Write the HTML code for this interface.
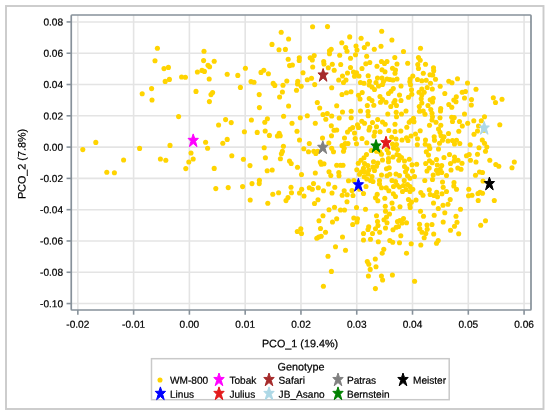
<!DOCTYPE html><html><head><meta charset="utf-8"><title>PCO plot</title>
<style>html,body{margin:0;padding:0;background:#fff}body{width:550px;height:416px;overflow:hidden}svg{display:block}text{font-family:"Liberation Sans",sans-serif;fill:#000;stroke:#000;stroke-width:0.22px}</style></head><body>
<svg width="550" height="416" viewBox="0 0 550 416">
<rect x="0" y="0" width="550" height="416" fill="#fff"/>
<rect x="6" y="6" width="537.5" height="403" fill="none" stroke="#cbcbcb" stroke-width="1.9"/>
<g stroke="#e4e4e4" stroke-width="1.6"><line x1="77.84" y1="15.00" x2="77.84" y2="310.00"/><line x1="133.62" y1="15.00" x2="133.62" y2="310.00"/><line x1="189.40" y1="15.00" x2="189.40" y2="310.00"/><line x1="245.18" y1="15.00" x2="245.18" y2="310.00"/><line x1="300.96" y1="15.00" x2="300.96" y2="310.00"/><line x1="356.74" y1="15.00" x2="356.74" y2="310.00"/><line x1="412.52" y1="15.00" x2="412.52" y2="310.00"/><line x1="468.30" y1="15.00" x2="468.30" y2="310.00"/><line x1="524.08" y1="15.00" x2="524.08" y2="310.00"/><line x1="71.25" y1="21.94" x2="531.00" y2="21.94"/><line x1="71.25" y1="53.23" x2="531.00" y2="53.23"/><line x1="71.25" y1="84.52" x2="531.00" y2="84.52"/><line x1="71.25" y1="115.81" x2="531.00" y2="115.81"/><line x1="71.25" y1="147.10" x2="531.00" y2="147.10"/><line x1="71.25" y1="178.39" x2="531.00" y2="178.39"/><line x1="71.25" y1="209.68" x2="531.00" y2="209.68"/><line x1="71.25" y1="240.97" x2="531.00" y2="240.97"/><line x1="71.25" y1="272.26" x2="531.00" y2="272.26"/><line x1="71.25" y1="303.55" x2="531.00" y2="303.55"/></g>
<g fill="#ffd400">
<circle cx="227.2" cy="139.4" r="2.55"/>
<circle cx="222.8" cy="143.2" r="2.55"/>
<circle cx="214.2" cy="61.2" r="2.55"/>
<circle cx="245.4" cy="68.2" r="2.55"/>
<circle cx="139.6" cy="148.4" r="2.55"/>
<circle cx="257.2" cy="132.4" r="2.55"/>
<circle cx="244.4" cy="131.8" r="2.55"/>
<circle cx="209.6" cy="66.8" r="2.55"/>
<circle cx="261.0" cy="72.4" r="2.55"/>
<circle cx="208.0" cy="65.2" r="2.55"/>
<circle cx="227.2" cy="74.2" r="2.55"/>
<circle cx="207.6" cy="148.2" r="2.55"/>
<circle cx="155.0" cy="60.8" r="2.55"/>
<circle cx="237.8" cy="75.4" r="2.55"/>
<circle cx="263.8" cy="70.2" r="2.55"/>
<circle cx="231.8" cy="155.8" r="2.55"/>
<circle cx="323.4" cy="286.2" r="2.55"/>
<circle cx="264.2" cy="147.8" r="2.55"/>
<circle cx="205.6" cy="142.2" r="2.55"/>
<circle cx="218.6" cy="125.0" r="2.55"/>
<circle cx="265.2" cy="131.0" r="2.55"/>
<circle cx="157.4" cy="48.2" r="2.55"/>
<circle cx="204.4" cy="71.4" r="2.55"/>
<circle cx="265.4" cy="157.8" r="2.55"/>
<circle cx="204.0" cy="51.2" r="2.55"/>
<circle cx="95.8" cy="142.4" r="2.55"/>
<circle cx="203.6" cy="60.6" r="2.55"/>
<circle cx="209.2" cy="79.0" r="2.55"/>
<circle cx="243.4" cy="159.2" r="2.55"/>
<circle cx="231.2" cy="122.6" r="2.55"/>
<circle cx="375.4" cy="288.6" r="2.55"/>
<circle cx="267.8" cy="203.2" r="2.55"/>
<circle cx="264.8" cy="122.2" r="2.55"/>
<circle cx="123.6" cy="160.0" r="2.55"/>
<circle cx="202.0" cy="70.4" r="2.55"/>
<circle cx="160.4" cy="159.0" r="2.55"/>
<circle cx="268.4" cy="73.8" r="2.55"/>
<circle cx="269.4" cy="135.4" r="2.55"/>
<circle cx="314.5" cy="203.5" r="2.55"/>
<circle cx="251.0" cy="81.6" r="2.55"/>
<circle cx="426.2" cy="80.3" r="2.55"/>
<circle cx="432.2" cy="162.7" r="2.55"/>
<circle cx="421.8" cy="80.8" r="2.55"/>
<circle cx="251.4" cy="120.0" r="2.55"/>
<circle cx="250.2" cy="200.0" r="2.55"/>
<circle cx="320.3" cy="162.0" r="2.55"/>
<circle cx="377.8" cy="163.0" r="2.55"/>
<circle cx="476.0" cy="162.0" r="2.55"/>
<circle cx="514.3" cy="162.0" r="2.55"/>
<circle cx="420.8" cy="245.0" r="2.55"/>
<circle cx="373.5" cy="161.8" r="2.55"/>
<circle cx="254.0" cy="82.2" r="2.55"/>
<circle cx="369.5" cy="81.3" r="2.55"/>
<circle cx="473.8" cy="120.7" r="2.55"/>
<circle cx="481.3" cy="120.7" r="2.55"/>
<circle cx="225.6" cy="119.6" r="2.55"/>
<circle cx="417.5" cy="79.5" r="2.55"/>
<circle cx="372.5" cy="122.5" r="2.55"/>
<circle cx="364.5" cy="163.5" r="2.55"/>
<circle cx="425.7" cy="163.5" r="2.55"/>
<circle cx="433.5" cy="203.0" r="2.55"/>
<circle cx="307.3" cy="79.7" r="2.55"/>
<circle cx="432.0" cy="120.0" r="2.55"/>
<circle cx="324.0" cy="163.7" r="2.55"/>
<circle cx="267.4" cy="118.8" r="2.55"/>
<circle cx="315.3" cy="123.2" r="2.55"/>
<circle cx="361.8" cy="121.3" r="2.55"/>
<circle cx="364.5" cy="123.2" r="2.55"/>
<circle cx="321.3" cy="164.2" r="2.55"/>
<circle cx="416.7" cy="164.2" r="2.55"/>
<circle cx="429.5" cy="160.7" r="2.55"/>
<circle cx="376.0" cy="82.5" r="2.55"/>
<circle cx="377.7" cy="119.5" r="2.55"/>
<circle cx="311.5" cy="78.3" r="2.55"/>
<circle cx="489.8" cy="160.2" r="2.55"/>
<circle cx="361.1" cy="38.3" r="2.55"/>
<circle cx="164.0" cy="68.6" r="2.55"/>
<circle cx="272.0" cy="44.4" r="2.55"/>
<circle cx="377.5" cy="78.0" r="2.55"/>
<circle cx="361.0" cy="160.2" r="2.55"/>
<circle cx="364.0" cy="83.2" r="2.55"/>
<circle cx="430.5" cy="83.2" r="2.55"/>
<circle cx="377.8" cy="200.8" r="2.55"/>
<circle cx="378.3" cy="241.8" r="2.55"/>
<circle cx="360.5" cy="82.5" r="2.55"/>
<circle cx="435.5" cy="79.2" r="2.55"/>
<circle cx="367.8" cy="165.5" r="2.55"/>
<circle cx="470.5" cy="160.2" r="2.55"/>
<circle cx="478.2" cy="200.5" r="2.55"/>
<circle cx="197.4" cy="72.0" r="2.55"/>
<circle cx="325.8" cy="119.2" r="2.55"/>
<circle cx="436.0" cy="122.2" r="2.55"/>
<circle cx="416.0" cy="200.0" r="2.55"/>
<circle cx="318.0" cy="199.8" r="2.55"/>
<circle cx="165.2" cy="81.4" r="2.55"/>
<circle cx="273.2" cy="83.4" r="2.55"/>
<circle cx="429.5" cy="125.3" r="2.55"/>
<circle cx="376.5" cy="166.3" r="2.55"/>
<circle cx="414.6" cy="281.2" r="2.55"/>
<circle cx="436.5" cy="159.5" r="2.55"/>
<circle cx="436.5" cy="243.2" r="2.55"/>
<circle cx="250.0" cy="165.6" r="2.55"/>
<circle cx="314.7" cy="84.6" r="2.55"/>
<circle cx="165.8" cy="160.2" r="2.55"/>
<circle cx="367.6" cy="44.0" r="2.55"/>
<circle cx="359.0" cy="76.0" r="2.55"/>
<circle cx="369.2" cy="85.0" r="2.55"/>
<circle cx="382.0" cy="78.0" r="2.55"/>
<circle cx="414.0" cy="121.8" r="2.55"/>
<circle cx="478.5" cy="126.0" r="2.55"/>
<circle cx="372.8" cy="167.0" r="2.55"/>
<circle cx="363.5" cy="240.0" r="2.55"/>
<circle cx="368.4" cy="276.0" r="2.55"/>
<circle cx="381.4" cy="276.0" r="2.55"/>
<circle cx="368.2" cy="75.8" r="2.55"/>
<circle cx="432.5" cy="116.8" r="2.55"/>
<circle cx="484.5" cy="116.8" r="2.55"/>
<circle cx="364.0" cy="157.8" r="2.55"/>
<circle cx="437.3" cy="165.0" r="2.55"/>
<circle cx="382.5" cy="84.5" r="2.55"/>
<circle cx="382.5" cy="122.0" r="2.55"/>
<circle cx="413.5" cy="118.2" r="2.55"/>
<circle cx="382.5" cy="160.0" r="2.55"/>
<circle cx="382.6" cy="280.0" r="2.55"/>
<circle cx="358.3" cy="163.2" r="2.55"/>
<circle cx="512.0" cy="167.7" r="2.55"/>
<circle cx="274.8" cy="85.4" r="2.55"/>
<circle cx="376.5" cy="126.8" r="2.55"/>
<circle cx="370.5" cy="239.2" r="2.55"/>
<circle cx="378.5" cy="86.0" r="2.55"/>
<circle cx="432.7" cy="75.0" r="2.55"/>
<circle cx="429.2" cy="168.0" r="2.55"/>
<circle cx="430.0" cy="74.8" r="2.55"/>
<circle cx="412.8" cy="76.0" r="2.55"/>
<circle cx="307.3" cy="115.8" r="2.55"/>
<circle cx="368.2" cy="115.8" r="2.55"/>
<circle cx="369.8" cy="127.2" r="2.55"/>
<circle cx="363.5" cy="168.2" r="2.55"/>
<circle cx="438.2" cy="240.5" r="2.55"/>
<circle cx="438.3" cy="208.5" r="2.55"/>
<circle cx="467.7" cy="123.2" r="2.55"/>
<circle cx="365.5" cy="209.3" r="2.55"/>
<circle cx="375.5" cy="197.7" r="2.55"/>
<circle cx="240.4" cy="87.4" r="2.55"/>
<circle cx="383.5" cy="81.5" r="2.55"/>
<circle cx="467.5" cy="83.0" r="2.55"/>
<circle cx="357.5" cy="124.8" r="2.55"/>
<circle cx="358.5" cy="127.5" r="2.55"/>
<circle cx="383.8" cy="249.2" r="2.55"/>
<circle cx="272.8" cy="194.2" r="2.55"/>
<circle cx="316.8" cy="238.2" r="2.55"/>
<circle cx="372.0" cy="87.0" r="2.55"/>
<circle cx="412.0" cy="164.7" r="2.55"/>
<circle cx="329.0" cy="209.7" r="2.55"/>
<circle cx="381.0" cy="46.2" r="2.55"/>
<circle cx="437.5" cy="196.8" r="2.55"/>
<circle cx="494.3" cy="200.5" r="2.55"/>
<circle cx="424.2" cy="237.7" r="2.55"/>
<circle cx="168.4" cy="67.4" r="2.55"/>
<circle cx="214.2" cy="168.4" r="2.55"/>
<circle cx="427.2" cy="87.5" r="2.55"/>
<circle cx="323.0" cy="114.5" r="2.55"/>
<circle cx="466.5" cy="155.8" r="2.55"/>
<circle cx="356.5" cy="207.5" r="2.55"/>
<circle cx="411.5" cy="202.0" r="2.55"/>
<circle cx="151.6" cy="88.6" r="2.55"/>
<circle cx="384.8" cy="198.3" r="2.55"/>
<circle cx="193.2" cy="159.0" r="2.55"/>
<circle cx="301.2" cy="86.3" r="2.55"/>
<circle cx="423.3" cy="73.2" r="2.55"/>
<circle cx="425.0" cy="114.2" r="2.55"/>
<circle cx="356.8" cy="169.8" r="2.55"/>
<circle cx="411.2" cy="243.7" r="2.55"/>
<circle cx="356.0" cy="46.0" r="2.55"/>
<circle cx="440.0" cy="117.8" r="2.55"/>
<circle cx="411.0" cy="120.5" r="2.55"/>
<circle cx="438.5" cy="129.0" r="2.55"/>
<circle cx="368.8" cy="170.0" r="2.55"/>
<circle cx="428.5" cy="155.0" r="2.55"/>
<circle cx="304.0" cy="196.0" r="2.55"/>
<circle cx="318.8" cy="237.0" r="2.55"/>
<circle cx="356.5" cy="72.8" r="2.55"/>
<circle cx="436.5" cy="170.2" r="2.55"/>
<circle cx="468.5" cy="195.8" r="2.55"/>
<circle cx="440.2" cy="86.3" r="2.55"/>
<circle cx="385.2" cy="124.3" r="2.55"/>
<circle cx="440.2" cy="169.2" r="2.55"/>
<circle cx="385.3" cy="206.2" r="2.55"/>
<circle cx="303.0" cy="72.7" r="2.55"/>
<circle cx="420.5" cy="211.3" r="2.55"/>
<circle cx="169.4" cy="79.4" r="2.55"/>
<circle cx="277.4" cy="136.0" r="2.55"/>
<circle cx="364.3" cy="47.5" r="2.55"/>
<circle cx="410.5" cy="84.8" r="2.55"/>
<circle cx="327.3" cy="113.5" r="2.55"/>
<circle cx="366.5" cy="154.5" r="2.55"/>
<circle cx="374.5" cy="170.5" r="2.55"/>
<circle cx="469.2" cy="154.5" r="2.55"/>
<circle cx="385.5" cy="211.2" r="2.55"/>
<circle cx="434.0" cy="195.5" r="2.55"/>
<circle cx="381.7" cy="31.3" r="2.55"/>
<circle cx="300.3" cy="117.8" r="2.55"/>
<circle cx="440.8" cy="125.3" r="2.55"/>
<circle cx="495.8" cy="164.5" r="2.55"/>
<circle cx="410.2" cy="79.0" r="2.55"/>
<circle cx="432.0" cy="113.2" r="2.55"/>
<circle cx="381.5" cy="154.2" r="2.55"/>
<circle cx="477.5" cy="154.2" r="2.55"/>
<circle cx="423.0" cy="195.2" r="2.55"/>
<circle cx="410.2" cy="207.5" r="2.55"/>
<circle cx="472.0" cy="195.2" r="2.55"/>
<circle cx="321.2" cy="236.2" r="2.55"/>
<circle cx="170.0" cy="145.4" r="2.55"/>
<circle cx="272.2" cy="170.0" r="2.55"/>
<circle cx="432.3" cy="89.0" r="2.55"/>
<circle cx="421.8" cy="89.0" r="2.55"/>
<circle cx="369.0" cy="130.0" r="2.55"/>
<circle cx="427.0" cy="171.0" r="2.55"/>
<circle cx="412.5" cy="171.0" r="2.55"/>
<circle cx="385.0" cy="71.8" r="2.55"/>
<circle cx="409.8" cy="81.8" r="2.55"/>
<circle cx="484.0" cy="130.2" r="2.55"/>
<circle cx="409.8" cy="204.8" r="2.55"/>
<circle cx="382.2" cy="253.2" r="2.55"/>
<circle cx="331.3" cy="125.8" r="2.55"/>
<circle cx="420.5" cy="48.3" r="2.55"/>
<circle cx="476.0" cy="89.3" r="2.55"/>
<circle cx="354.5" cy="76.2" r="2.55"/>
<circle cx="374.5" cy="89.5" r="2.55"/>
<circle cx="464.5" cy="114.0" r="2.55"/>
<circle cx="315.8" cy="153.5" r="2.55"/>
<circle cx="386.5" cy="168.8" r="2.55"/>
<circle cx="430.2" cy="194.5" r="2.55"/>
<circle cx="278.6" cy="192.8" r="2.55"/>
<circle cx="331.4" cy="271.4" r="2.55"/>
<circle cx="411.5" cy="89.7" r="2.55"/>
<circle cx="329.0" cy="171.7" r="2.55"/>
<circle cx="409.3" cy="159.2" r="2.55"/>
<circle cx="331.7" cy="87.8" r="2.55"/>
<circle cx="331.7" cy="116.0" r="2.55"/>
<circle cx="441.7" cy="165.5" r="2.55"/>
<circle cx="267.2" cy="170.8" r="2.55"/>
<circle cx="409.2" cy="122.2" r="2.55"/>
<circle cx="420.2" cy="130.8" r="2.55"/>
<circle cx="361.5" cy="171.8" r="2.55"/>
<circle cx="377.2" cy="194.2" r="2.55"/>
<circle cx="279.0" cy="49.8" r="2.55"/>
<circle cx="191.0" cy="153.0" r="2.55"/>
<circle cx="387.0" cy="79.0" r="2.55"/>
<circle cx="477.5" cy="131.0" r="2.55"/>
<circle cx="364.8" cy="172.0" r="2.55"/>
<circle cx="479.5" cy="172.0" r="2.55"/>
<circle cx="82.8" cy="149.6" r="2.55"/>
<circle cx="331.2" cy="49.2" r="2.55"/>
<circle cx="433.7" cy="70.8" r="2.55"/>
<circle cx="442.0" cy="193.8" r="2.55"/>
<circle cx="279.2" cy="133.2" r="2.55"/>
<circle cx="374.3" cy="49.3" r="2.55"/>
<circle cx="196.0" cy="91.4" r="2.55"/>
<circle cx="353.5" cy="72.0" r="2.55"/>
<circle cx="368.0" cy="111.5" r="2.55"/>
<circle cx="441.7" cy="172.5" r="2.55"/>
<circle cx="482.5" cy="172.5" r="2.55"/>
<circle cx="363.5" cy="193.5" r="2.55"/>
<circle cx="408.5" cy="199.5" r="2.55"/>
<circle cx="478.0" cy="193.5" r="2.55"/>
<circle cx="419.5" cy="111.3" r="2.55"/>
<circle cx="482.5" cy="193.3" r="2.55"/>
<circle cx="387.8" cy="114.0" r="2.55"/>
<circle cx="380.0" cy="131.8" r="2.55"/>
<circle cx="357.0" cy="50.0" r="2.55"/>
<circle cx="360.5" cy="111.0" r="2.55"/>
<circle cx="374.8" cy="132.0" r="2.55"/>
<circle cx="423.2" cy="111.0" r="2.55"/>
<circle cx="440.5" cy="111.0" r="2.55"/>
<circle cx="315.3" cy="173.0" r="2.55"/>
<circle cx="299.5" cy="193.0" r="2.55"/>
<circle cx="332.0" cy="193.0" r="2.55"/>
<circle cx="353.0" cy="195.5" r="2.55"/>
<circle cx="443.0" cy="205.2" r="2.55"/>
<circle cx="433.7" cy="234.0" r="2.55"/>
<circle cx="297.8" cy="81.2" r="2.55"/>
<circle cx="382.0" cy="69.8" r="2.55"/>
<circle cx="440.0" cy="132.2" r="2.55"/>
<circle cx="379.8" cy="151.8" r="2.55"/>
<circle cx="438.0" cy="173.2" r="2.55"/>
<circle cx="106.8" cy="172.2" r="2.55"/>
<circle cx="280.2" cy="135.8" r="2.55"/>
<circle cx="352.7" cy="127.5" r="2.55"/>
<circle cx="308.5" cy="151.7" r="2.55"/>
<circle cx="426.3" cy="151.7" r="2.55"/>
<circle cx="280.4" cy="158.8" r="2.55"/>
<circle cx="297.5" cy="84.0" r="2.55"/>
<circle cx="465.5" cy="91.5" r="2.55"/>
<circle cx="333.5" cy="151.7" r="2.55"/>
<circle cx="297.5" cy="167.3" r="2.55"/>
<circle cx="388.5" cy="153.0" r="2.55"/>
<circle cx="388.5" cy="158.5" r="2.55"/>
<circle cx="388.5" cy="161.7" r="2.55"/>
<circle cx="420.8" cy="192.5" r="2.55"/>
<circle cx="301.5" cy="233.5" r="2.55"/>
<circle cx="372.5" cy="233.5" r="2.55"/>
<circle cx="363.5" cy="233.5" r="2.55"/>
<circle cx="425.8" cy="233.5" r="2.55"/>
<circle cx="212.6" cy="92.6" r="2.55"/>
<circle cx="370.2" cy="269.4" r="2.55"/>
<circle cx="462.3" cy="126.0" r="2.55"/>
<circle cx="114.4" cy="172.8" r="2.55"/>
<circle cx="388.8" cy="130.5" r="2.55"/>
<circle cx="498.8" cy="166.3" r="2.55"/>
<circle cx="329.5" cy="50.8" r="2.55"/>
<circle cx="313.8" cy="151.2" r="2.55"/>
<circle cx="317.7" cy="151.2" r="2.55"/>
<circle cx="376.5" cy="151.2" r="2.55"/>
<circle cx="485.5" cy="151.2" r="2.55"/>
<circle cx="436.7" cy="192.2" r="2.55"/>
<circle cx="480.0" cy="192.2" r="2.55"/>
<circle cx="334.0" cy="130.3" r="2.55"/>
<circle cx="297.0" cy="131.3" r="2.55"/>
<circle cx="354.5" cy="133.0" r="2.55"/>
<circle cx="368.0" cy="174.0" r="2.55"/>
<circle cx="444.0" cy="157.5" r="2.55"/>
<circle cx="462.0" cy="163.3" r="2.55"/>
<circle cx="188.8" cy="162.0" r="2.55"/>
<circle cx="406.8" cy="127.2" r="2.55"/>
<circle cx="406.8" cy="168.8" r="2.55"/>
<circle cx="281.2" cy="32.2" r="2.55"/>
<circle cx="334.2" cy="70.3" r="2.55"/>
<circle cx="419.0" cy="92.2" r="2.55"/>
<circle cx="424.2" cy="92.2" r="2.55"/>
<circle cx="359.5" cy="174.2" r="2.55"/>
<circle cx="389.2" cy="167.8" r="2.55"/>
<circle cx="434.2" cy="215.2" r="2.55"/>
<circle cx="328.0" cy="256.2" r="2.55"/>
<circle cx="462.2" cy="92.3" r="2.55"/>
<circle cx="215.8" cy="188.6" r="2.55"/>
<circle cx="281.4" cy="153.8" r="2.55"/>
<circle cx="296.5" cy="90.3" r="2.55"/>
<circle cx="362.0" cy="68.5" r="2.55"/>
<circle cx="362.2" cy="92.5" r="2.55"/>
<circle cx="418.5" cy="68.5" r="2.55"/>
<circle cx="430.8" cy="109.5" r="2.55"/>
<circle cx="301.5" cy="174.5" r="2.55"/>
<circle cx="371.2" cy="150.5" r="2.55"/>
<circle cx="334.5" cy="207.3" r="2.55"/>
<circle cx="389.5" cy="214.0" r="2.55"/>
<circle cx="410.0" cy="191.5" r="2.55"/>
<circle cx="406.5" cy="253.2" r="2.55"/>
<circle cx="325.5" cy="232.3" r="2.55"/>
<circle cx="379.7" cy="232.3" r="2.55"/>
<circle cx="142.2" cy="93.8" r="2.55"/>
<circle cx="499.8" cy="124.8" r="2.55"/>
<circle cx="389.8" cy="174.2" r="2.55"/>
<circle cx="323.0" cy="215.8" r="2.55"/>
<circle cx="376.5" cy="215.8" r="2.55"/>
<circle cx="444.8" cy="212.7" r="2.55"/>
<circle cx="389.8" cy="240.5" r="2.55"/>
<circle cx="351.2" cy="111.3" r="2.55"/>
<circle cx="351.2" cy="117.8" r="2.55"/>
<circle cx="422.0" cy="232.2" r="2.55"/>
<circle cx="390.0" cy="79.5" r="2.55"/>
<circle cx="351.0" cy="91.8" r="2.55"/>
<circle cx="406.0" cy="111.0" r="2.55"/>
<circle cx="415.5" cy="134.0" r="2.55"/>
<circle cx="381.5" cy="175.0" r="2.55"/>
<circle cx="433.2" cy="175.0" r="2.55"/>
<circle cx="461.0" cy="169.2" r="2.55"/>
<circle cx="312.6" cy="26.8" r="2.55"/>
<circle cx="433.5" cy="67.8" r="2.55"/>
<circle cx="387.0" cy="149.8" r="2.55"/>
<circle cx="323.5" cy="190.8" r="2.55"/>
<circle cx="388.8" cy="190.8" r="2.55"/>
<circle cx="474.0" cy="134.2" r="2.55"/>
<circle cx="475.5" cy="175.2" r="2.55"/>
<circle cx="423.5" cy="216.2" r="2.55"/>
<circle cx="328.3" cy="67.7" r="2.55"/>
<circle cx="259.4" cy="107.6" r="2.55"/>
<circle cx="228.2" cy="187.6" r="2.55"/>
<circle cx="327.5" cy="26.6" r="2.55"/>
<circle cx="282.4" cy="92.0" r="2.55"/>
<circle cx="282.4" cy="151.4" r="2.55"/>
<circle cx="350.5" cy="67.5" r="2.55"/>
<circle cx="388.5" cy="93.5" r="2.55"/>
<circle cx="444.8" cy="93.5" r="2.55"/>
<circle cx="440.7" cy="108.5" r="2.55"/>
<circle cx="330.8" cy="175.5" r="2.55"/>
<circle cx="405.5" cy="171.7" r="2.55"/>
<circle cx="352.0" cy="190.5" r="2.55"/>
<circle cx="460.5" cy="209.2" r="2.55"/>
<circle cx="297.3" cy="231.5" r="2.55"/>
<circle cx="335.5" cy="246.7" r="2.55"/>
<circle cx="211.0" cy="94.6" r="2.55"/>
<circle cx="259.2" cy="94.6" r="2.55"/>
<circle cx="407.5" cy="175.7" r="2.55"/>
<circle cx="387.0" cy="175.8" r="2.55"/>
<circle cx="350.2" cy="129.3" r="2.55"/>
<circle cx="283.0" cy="85.2" r="2.55"/>
<circle cx="312.7" cy="67.0" r="2.55"/>
<circle cx="391.0" cy="91.2" r="2.55"/>
<circle cx="319.7" cy="108.0" r="2.55"/>
<circle cx="438.5" cy="149.0" r="2.55"/>
<circle cx="386.5" cy="217.0" r="2.55"/>
<circle cx="303.8" cy="148.8" r="2.55"/>
<circle cx="429.3" cy="189.8" r="2.55"/>
<circle cx="376.0" cy="266.8" r="2.55"/>
<circle cx="411.8" cy="94.2" r="2.55"/>
<circle cx="349.7" cy="36.9" r="2.55"/>
<circle cx="242.6" cy="186.6" r="2.55"/>
<circle cx="283.4" cy="146.2" r="2.55"/>
<circle cx="459.5" cy="121.5" r="2.55"/>
<circle cx="372.0" cy="176.5" r="2.55"/>
<circle cx="429.8" cy="148.5" r="2.55"/>
<circle cx="404.5" cy="161.0" r="2.55"/>
<circle cx="404.5" cy="166.5" r="2.55"/>
<circle cx="414.5" cy="176.5" r="2.55"/>
<circle cx="446.5" cy="175.5" r="2.55"/>
<circle cx="406.0" cy="189.5" r="2.55"/>
<circle cx="446.5" cy="191.5" r="2.55"/>
<circle cx="283.6" cy="116.2" r="2.55"/>
<circle cx="336.7" cy="130.0" r="2.55"/>
<circle cx="336.7" cy="165.3" r="2.55"/>
<circle cx="329.5" cy="53.8" r="2.55"/>
<circle cx="331.5" cy="135.8" r="2.55"/>
<circle cx="441.0" cy="135.8" r="2.55"/>
<circle cx="364.2" cy="176.8" r="2.55"/>
<circle cx="377.0" cy="66.2" r="2.55"/>
<circle cx="331.7" cy="148.2" r="2.55"/>
<circle cx="301.7" cy="189.2" r="2.55"/>
<circle cx="312.3" cy="189.2" r="2.55"/>
<circle cx="359.5" cy="189.2" r="2.55"/>
<circle cx="412.8" cy="189.2" r="2.55"/>
<circle cx="468.8" cy="189.2" r="2.55"/>
<circle cx="391.9" cy="40.0" r="2.55"/>
<circle cx="421.8" cy="95.0" r="2.55"/>
<circle cx="374.0" cy="136.0" r="2.55"/>
<circle cx="411.0" cy="136.0" r="2.55"/>
<circle cx="392.0" cy="203.0" r="2.55"/>
<circle cx="353.8" cy="218.0" r="2.55"/>
<circle cx="375.3" cy="259.0" r="2.55"/>
<circle cx="185.8" cy="168.6" r="2.55"/>
<circle cx="458.8" cy="131.3" r="2.55"/>
<circle cx="358.5" cy="95.2" r="2.55"/>
<circle cx="479.0" cy="147.7" r="2.55"/>
<circle cx="458.7" cy="233.7" r="2.55"/>
<circle cx="392.4" cy="275.0" r="2.55"/>
<circle cx="403.5" cy="51.5" r="2.55"/>
<circle cx="392.5" cy="68.2" r="2.55"/>
<circle cx="390.8" cy="106.5" r="2.55"/>
<circle cx="419.3" cy="106.5" r="2.55"/>
<circle cx="403.5" cy="218.5" r="2.55"/>
<circle cx="368.0" cy="229.5" r="2.55"/>
<circle cx="185.4" cy="77.2" r="2.55"/>
<circle cx="355.5" cy="54.7" r="2.55"/>
<circle cx="434.2" cy="136.7" r="2.55"/>
<circle cx="336.7" cy="218.7" r="2.55"/>
<circle cx="392.7" cy="242.3" r="2.55"/>
<circle cx="444.0" cy="136.8" r="2.55"/>
<circle cx="357.5" cy="218.8" r="2.55"/>
<circle cx="427.2" cy="229.2" r="2.55"/>
<circle cx="279.6" cy="97.0" r="2.55"/>
<circle cx="393.0" cy="80.0" r="2.55"/>
<circle cx="393.0" cy="157.0" r="2.55"/>
<circle cx="486.8" cy="147.0" r="2.55"/>
<circle cx="458.0" cy="160.3" r="2.55"/>
<circle cx="393.0" cy="208.5" r="2.55"/>
<circle cx="448.0" cy="204.2" r="2.55"/>
<circle cx="393.0" cy="229.8" r="2.55"/>
<circle cx="336.7" cy="105.8" r="2.55"/>
<circle cx="457.8" cy="168.0" r="2.55"/>
<circle cx="318.3" cy="187.8" r="2.55"/>
<circle cx="381.5" cy="187.8" r="2.55"/>
<circle cx="386.2" cy="187.8" r="2.55"/>
<circle cx="300.8" cy="228.8" r="2.55"/>
<circle cx="375.5" cy="228.8" r="2.55"/>
<circle cx="419.8" cy="228.8" r="2.55"/>
<circle cx="391.7" cy="137.2" r="2.55"/>
<circle cx="410.0" cy="178.2" r="2.55"/>
<circle cx="393.3" cy="88.5" r="2.55"/>
<circle cx="393.3" cy="193.8" r="2.55"/>
<circle cx="309.3" cy="187.7" r="2.55"/>
<circle cx="285.4" cy="49.4" r="2.55"/>
<circle cx="347.5" cy="73.0" r="2.55"/>
<circle cx="380.0" cy="96.5" r="2.55"/>
<circle cx="417.8" cy="64.5" r="2.55"/>
<circle cx="457.5" cy="78.7" r="2.55"/>
<circle cx="367.3" cy="105.5" r="2.55"/>
<circle cx="347.5" cy="132.0" r="2.55"/>
<circle cx="428.0" cy="105.5" r="2.55"/>
<circle cx="448.5" cy="133.5" r="2.55"/>
<circle cx="393.5" cy="148.0" r="2.55"/>
<circle cx="402.5" cy="191.5" r="2.55"/>
<circle cx="320.5" cy="228.5" r="2.55"/>
<circle cx="292.4" cy="65.0" r="2.55"/>
<circle cx="314.2" cy="55.6" r="2.55"/>
<circle cx="332.3" cy="64.3" r="2.55"/>
<circle cx="425.5" cy="64.3" r="2.55"/>
<circle cx="373.8" cy="105.3" r="2.55"/>
<circle cx="338.7" cy="80.0" r="2.55"/>
<circle cx="448.8" cy="81.2" r="2.55"/>
<circle cx="406.5" cy="137.8" r="2.55"/>
<circle cx="338.8" cy="172.5" r="2.55"/>
<circle cx="384.0" cy="219.8" r="2.55"/>
<circle cx="334.8" cy="187.2" r="2.55"/>
<circle cx="347.2" cy="194.8" r="2.55"/>
<circle cx="443.2" cy="187.2" r="2.55"/>
<circle cx="286.0" cy="200.6" r="2.55"/>
<circle cx="347.0" cy="51.2" r="2.55"/>
<circle cx="324.0" cy="64.0" r="2.55"/>
<circle cx="292.0" cy="123.3" r="2.55"/>
<circle cx="322.5" cy="138.0" r="2.55"/>
<circle cx="471.3" cy="105.0" r="2.55"/>
<circle cx="339.0" cy="175.7" r="2.55"/>
<circle cx="366.8" cy="179.0" r="2.55"/>
<circle cx="347.0" cy="201.7" r="2.55"/>
<circle cx="385.5" cy="228.0" r="2.55"/>
<circle cx="365.8" cy="63.8" r="2.55"/>
<circle cx="429.0" cy="145.8" r="2.55"/>
<circle cx="366.7" cy="56.2" r="2.55"/>
<circle cx="408.5" cy="97.2" r="2.55"/>
<circle cx="339.2" cy="118.0" r="2.55"/>
<circle cx="252.0" cy="183.6" r="2.55"/>
<circle cx="259.2" cy="183.6" r="2.55"/>
<circle cx="384.5" cy="63.5" r="2.55"/>
<circle cx="346.5" cy="92.8" r="2.55"/>
<circle cx="355.2" cy="138.5" r="2.55"/>
<circle cx="362.0" cy="138.5" r="2.55"/>
<circle cx="448.8" cy="104.5" r="2.55"/>
<circle cx="401.5" cy="114.0" r="2.55"/>
<circle cx="449.5" cy="154.5" r="2.55"/>
<circle cx="401.5" cy="157.5" r="2.55"/>
<circle cx="432.5" cy="179.5" r="2.55"/>
<circle cx="291.5" cy="192.7" r="2.55"/>
<circle cx="366.0" cy="186.5" r="2.55"/>
<circle cx="393.5" cy="186.5" r="2.55"/>
<circle cx="410.0" cy="186.5" r="2.55"/>
<circle cx="456.5" cy="189.2" r="2.55"/>
<circle cx="367.3" cy="261.5" r="2.55"/>
<circle cx="178.6" cy="116.6" r="2.55"/>
<circle cx="407.7" cy="63.3" r="2.55"/>
<circle cx="456.3" cy="96.7" r="2.55"/>
<circle cx="339.7" cy="55.2" r="2.55"/>
<circle cx="286.8" cy="81.0" r="2.55"/>
<circle cx="493.3" cy="97.8" r="2.55"/>
<circle cx="417.5" cy="138.8" r="2.55"/>
<circle cx="319.0" cy="220.8" r="2.55"/>
<circle cx="485.5" cy="220.8" r="2.55"/>
<circle cx="291.2" cy="163.5" r="2.55"/>
<circle cx="395.0" cy="73.2" r="2.55"/>
<circle cx="346.0" cy="80.0" r="2.55"/>
<circle cx="401.0" cy="86.0" r="2.55"/>
<circle cx="464.5" cy="98.0" r="2.55"/>
<circle cx="395.0" cy="124.2" r="2.55"/>
<circle cx="395.0" cy="131.5" r="2.55"/>
<circle cx="291.0" cy="187.2" r="2.55"/>
<circle cx="456.0" cy="216.2" r="2.55"/>
<circle cx="400.8" cy="131.0" r="2.55"/>
<circle cx="417.3" cy="144.8" r="2.55"/>
<circle cx="470.2" cy="144.8" r="2.55"/>
<circle cx="368.7" cy="226.8" r="2.55"/>
<circle cx="400.8" cy="235.8" r="2.55"/>
<circle cx="433.2" cy="98.2" r="2.55"/>
<circle cx="450.2" cy="199.5" r="2.55"/>
<circle cx="345.7" cy="47.5" r="2.55"/>
<circle cx="394.8" cy="57.5" r="2.55"/>
<circle cx="418.5" cy="57.5" r="2.55"/>
<circle cx="369.8" cy="62.5" r="2.55"/>
<circle cx="395.5" cy="70.0" r="2.55"/>
<circle cx="369.2" cy="98.5" r="2.55"/>
<circle cx="340.5" cy="165.2" r="2.55"/>
<circle cx="370.5" cy="180.5" r="2.55"/>
<circle cx="379.5" cy="180.5" r="2.55"/>
<circle cx="392.0" cy="180.5" r="2.55"/>
<circle cx="353.8" cy="180.5" r="2.55"/>
<circle cx="450.5" cy="163.5" r="2.55"/>
<circle cx="424.8" cy="180.5" r="2.55"/>
<circle cx="404.2" cy="180.5" r="2.55"/>
<circle cx="340.5" cy="210.0" r="2.55"/>
<circle cx="395.5" cy="196.5" r="2.55"/>
<circle cx="377.5" cy="221.5" r="2.55"/>
<circle cx="403.5" cy="185.5" r="2.55"/>
<circle cx="345.5" cy="250.3" r="2.55"/>
<circle cx="450.5" cy="230.2" r="2.55"/>
<circle cx="340.7" cy="64.5" r="2.55"/>
<circle cx="310.2" cy="57.8" r="2.55"/>
<circle cx="299.3" cy="57.8" r="2.55"/>
<circle cx="421.2" cy="98.8" r="2.55"/>
<circle cx="348.5" cy="180.8" r="2.55"/>
<circle cx="425.2" cy="144.2" r="2.55"/>
<circle cx="152.0" cy="100.0" r="2.55"/>
<circle cx="288.0" cy="197.6" r="2.55"/>
<circle cx="360.0" cy="99.0" r="2.55"/>
<circle cx="299.5" cy="140.0" r="2.55"/>
<circle cx="396.0" cy="139.0" r="2.55"/>
<circle cx="421.8" cy="103.0" r="2.55"/>
<circle cx="402.0" cy="140.0" r="2.55"/>
<circle cx="425.5" cy="140.0" r="2.55"/>
<circle cx="482.3" cy="140.0" r="2.55"/>
<circle cx="392.5" cy="144.0" r="2.55"/>
<circle cx="396.0" cy="174.0" r="2.55"/>
<circle cx="451.0" cy="170.0" r="2.55"/>
<circle cx="483.0" cy="181.0" r="2.55"/>
<circle cx="332.5" cy="222.0" r="2.55"/>
<circle cx="357.0" cy="222.0" r="2.55"/>
<circle cx="400.0" cy="206.8" r="2.55"/>
<circle cx="443.2" cy="222.0" r="2.55"/>
<circle cx="393.8" cy="102.8" r="2.55"/>
<circle cx="356.5" cy="143.8" r="2.55"/>
<circle cx="399.8" cy="220.5" r="2.55"/>
<circle cx="288.2" cy="59.2" r="2.55"/>
<circle cx="350.5" cy="58.2" r="2.55"/>
<circle cx="502.0" cy="99.2" r="2.55"/>
<circle cx="396.2" cy="112.2" r="2.55"/>
<circle cx="434.5" cy="140.2" r="2.55"/>
<circle cx="442.5" cy="140.2" r="2.55"/>
<circle cx="457.0" cy="222.2" r="2.55"/>
<circle cx="396.2" cy="227.2" r="2.55"/>
<circle cx="456.5" cy="140.3" r="2.55"/>
<circle cx="181.6" cy="77.0" r="2.55"/>
<circle cx="209.4" cy="101.6" r="2.55"/>
<circle cx="259.4" cy="180.4" r="2.55"/>
<circle cx="323.7" cy="61.5" r="2.55"/>
<circle cx="381.5" cy="61.5" r="2.55"/>
<circle cx="387.0" cy="61.5" r="2.55"/>
<circle cx="382.5" cy="99.5" r="2.55"/>
<circle cx="399.5" cy="95.0" r="2.55"/>
<circle cx="471.5" cy="99.5" r="2.55"/>
<circle cx="317.3" cy="102.5" r="2.55"/>
<circle cx="396.5" cy="105.5" r="2.55"/>
<circle cx="396.5" cy="116.8" r="2.55"/>
<circle cx="344.5" cy="138.0" r="2.55"/>
<circle cx="408.0" cy="140.5" r="2.55"/>
<circle cx="495.5" cy="102.5" r="2.55"/>
<circle cx="309.3" cy="143.5" r="2.55"/>
<circle cx="289.5" cy="161.0" r="2.55"/>
<circle cx="345.2" cy="143.5" r="2.55"/>
<circle cx="348.0" cy="143.5" r="2.55"/>
<circle cx="396.5" cy="144.5" r="2.55"/>
<circle cx="373.0" cy="181.5" r="2.55"/>
<circle cx="395.5" cy="181.5" r="2.55"/>
<circle cx="399.5" cy="175.5" r="2.55"/>
<circle cx="454.5" cy="144.0" r="2.55"/>
<circle cx="459.8" cy="143.5" r="2.55"/>
<circle cx="454.5" cy="157.0" r="2.55"/>
<circle cx="344.5" cy="210.0" r="2.55"/>
<circle cx="399.5" cy="187.0" r="2.55"/>
<circle cx="407.5" cy="184.5" r="2.55"/>
<circle cx="378.0" cy="225.5" r="2.55"/>
<circle cx="399.5" cy="242.7" r="2.55"/>
<circle cx="454.5" cy="226.2" r="2.55"/>
<circle cx="288.6" cy="39.0" r="2.55"/>
<circle cx="288.6" cy="106.0" r="2.55"/>
<circle cx="451.7" cy="117.2" r="2.55"/>
<circle cx="341.8" cy="42.8" r="2.55"/>
<circle cx="430.2" cy="99.8" r="2.55"/>
<circle cx="451.8" cy="107.2" r="2.55"/>
<circle cx="387.0" cy="222.8" r="2.55"/>
<circle cx="406.5" cy="222.8" r="2.55"/>
<circle cx="380.5" cy="102.2" r="2.55"/>
<circle cx="386.0" cy="102.2" r="2.55"/>
<circle cx="454.2" cy="117.5" r="2.55"/>
<circle cx="344.2" cy="148.2" r="2.55"/>
<circle cx="439.5" cy="143.2" r="2.55"/>
<circle cx="399.2" cy="155.5" r="2.55"/>
<circle cx="484.5" cy="143.2" r="2.55"/>
<circle cx="454.2" cy="161.0" r="2.55"/>
<circle cx="344.2" cy="190.8" r="2.55"/>
<circle cx="480.7" cy="225.2" r="2.55"/>
<circle cx="342.0" cy="94.5" r="2.55"/>
<circle cx="397.0" cy="64.0" r="2.55"/>
<circle cx="397.0" cy="79.0" r="2.55"/>
<circle cx="452.0" cy="82.8" r="2.55"/>
<circle cx="432.5" cy="102.0" r="2.55"/>
<circle cx="448.0" cy="141.0" r="2.55"/>
<circle cx="328.8" cy="143.0" r="2.55"/>
<circle cx="342.0" cy="145.5" r="2.55"/>
<circle cx="397.0" cy="154.5" r="2.55"/>
<circle cx="442.5" cy="182.0" r="2.55"/>
<circle cx="328.5" cy="184.0" r="2.55"/>
<circle cx="379.5" cy="184.0" r="2.55"/>
<circle cx="397.0" cy="185.0" r="2.55"/>
<circle cx="402.0" cy="223.0" r="2.55"/>
<circle cx="427.0" cy="225.0" r="2.55"/>
<circle cx="453.8" cy="100.0" r="2.55"/>
<circle cx="456.0" cy="101.8" r="2.55"/>
<circle cx="366.8" cy="142.8" r="2.55"/>
<circle cx="398.8" cy="160.2" r="2.55"/>
<circle cx="453.8" cy="186.0" r="2.55"/>
<circle cx="342.2" cy="195.2" r="2.55"/>
<circle cx="368.8" cy="264.2" r="2.55"/>
<circle cx="299.2" cy="60.5" r="2.55"/>
<circle cx="342.5" cy="76.0" r="2.55"/>
<circle cx="343.5" cy="82.5" r="2.55"/>
<circle cx="372.0" cy="100.5" r="2.55"/>
<circle cx="395.0" cy="100.5" r="2.55"/>
<circle cx="401.0" cy="100.5" r="2.55"/>
<circle cx="342.5" cy="112.0" r="2.55"/>
<circle cx="452.5" cy="121.5" r="2.55"/>
<circle cx="452.5" cy="140.5" r="2.55"/>
<circle cx="343.5" cy="151.2" r="2.55"/>
<circle cx="397.5" cy="149.5" r="2.55"/>
<circle cx="454.0" cy="182.5" r="2.55"/>
<circle cx="313.5" cy="183.5" r="2.55"/>
<circle cx="397.5" cy="221.5" r="2.55"/>
<circle cx="342.5" cy="237.0" r="2.55"/>
<circle cx="352.7" cy="224.5" r="2.55"/>
<circle cx="398.5" cy="226.5" r="2.55"/>
<circle cx="432.0" cy="224.5" r="2.55"/>
<circle cx="289.6" cy="65.6" r="2.55"/>
<circle cx="420.2" cy="60.2" r="2.55"/>
<circle cx="419.5" cy="224.2" r="2.55"/>
<circle cx="312.3" cy="60.0" r="2.55"/>
<circle cx="343.0" cy="165.2" r="2.55"/>
</g>
<polygon points="193.20,133.90 194.70,138.34 198.36,138.34 195.47,141.33 197.02,146.69 193.20,143.49 189.38,146.69 190.93,141.33 188.04,138.34 191.70,138.34" fill="#ff00ff" stroke="#ff00ff" stroke-width="1" stroke-linejoin="miter"/>
<polygon points="323.10,68.50 324.60,72.94 328.26,72.94 325.37,75.93 326.92,81.29 323.10,78.09 319.28,81.29 320.83,75.93 317.94,72.94 321.60,72.94" fill="#a52a2a" stroke="#a52a2a" stroke-width="1" stroke-linejoin="miter"/>
<polygon points="322.80,140.80 324.30,145.24 327.96,145.24 325.07,148.23 326.62,153.59 322.80,150.39 318.98,153.59 320.53,148.23 317.64,145.24 321.30,145.24" fill="#808080" stroke="#808080" stroke-width="1" stroke-linejoin="miter"/>
<polygon points="376.00,139.50 377.50,143.94 381.16,143.94 378.27,146.93 379.82,152.29 376.00,149.09 372.18,152.29 373.73,146.93 370.84,143.94 374.50,143.94" fill="#008000" stroke="#008000" stroke-width="1" stroke-linejoin="miter"/>
<polygon points="386.00,136.20 387.50,140.64 391.16,140.64 388.27,143.63 389.82,148.99 386.00,145.79 382.18,148.99 383.73,143.63 380.84,140.64 384.50,140.64" fill="#e31a1c" stroke="#e31a1c" stroke-width="1" stroke-linejoin="miter"/>
<polygon points="358.40,178.30 359.90,182.74 363.56,182.74 360.67,185.73 362.22,191.09 358.40,187.89 354.58,191.09 356.13,185.73 353.24,182.74 356.90,182.74" fill="#0000ff" stroke="#0000ff" stroke-width="1" stroke-linejoin="miter"/>
<polygon points="484.20,121.50 485.70,125.94 489.36,125.94 486.47,128.93 488.02,134.29 484.20,131.09 480.38,134.29 481.93,128.93 479.04,125.94 482.70,125.94" fill="#add8e6" stroke="#add8e6" stroke-width="1" stroke-linejoin="miter"/>
<polygon points="489.40,177.10 490.90,181.54 494.56,181.54 491.67,184.53 493.22,189.89 489.40,186.69 485.58,189.89 487.13,184.53 484.24,181.54 487.90,181.54" fill="#000000" stroke="#000000" stroke-width="1" stroke-linejoin="miter"/>
<rect x="71.25" y="15.00" width="459.75" height="295.00" fill="none" stroke="#87919a" stroke-width="1.7" rx="0.8"/>
<g stroke="#87919a" stroke-width="1.6"><line x1="77.84" y1="310.00" x2="77.84" y2="314.70"/><line x1="133.62" y1="310.00" x2="133.62" y2="314.70"/><line x1="189.40" y1="310.00" x2="189.40" y2="314.70"/><line x1="245.18" y1="310.00" x2="245.18" y2="314.70"/><line x1="300.96" y1="310.00" x2="300.96" y2="314.70"/><line x1="356.74" y1="310.00" x2="356.74" y2="314.70"/><line x1="412.52" y1="310.00" x2="412.52" y2="314.70"/><line x1="468.30" y1="310.00" x2="468.30" y2="314.70"/><line x1="524.08" y1="310.00" x2="524.08" y2="314.70"/><line x1="66.55" y1="21.94" x2="71.25" y2="21.94"/><line x1="66.55" y1="53.23" x2="71.25" y2="53.23"/><line x1="66.55" y1="84.52" x2="71.25" y2="84.52"/><line x1="66.55" y1="115.81" x2="71.25" y2="115.81"/><line x1="66.55" y1="147.10" x2="71.25" y2="147.10"/><line x1="66.55" y1="178.39" x2="71.25" y2="178.39"/><line x1="66.55" y1="209.68" x2="71.25" y2="209.68"/><line x1="66.55" y1="240.97" x2="71.25" y2="240.97"/><line x1="66.55" y1="272.26" x2="71.25" y2="272.26"/><line x1="66.55" y1="303.55" x2="71.25" y2="303.55"/></g>
<text transform="translate(77.84,327.70) rotate(0.03)" font-size="10.10px" text-anchor="middle">-0.02</text>
<text transform="translate(133.62,327.70) rotate(0.03)" font-size="10.10px" text-anchor="middle">-0.01</text>
<text transform="translate(189.40,327.70) rotate(0.03)" font-size="10.10px" text-anchor="middle">0.00</text>
<text transform="translate(245.18,327.70) rotate(0.03)" font-size="10.10px" text-anchor="middle">0.01</text>
<text transform="translate(300.96,327.70) rotate(0.03)" font-size="10.10px" text-anchor="middle">0.02</text>
<text transform="translate(356.74,327.70) rotate(0.03)" font-size="10.10px" text-anchor="middle">0.03</text>
<text transform="translate(412.52,327.70) rotate(0.03)" font-size="10.10px" text-anchor="middle">0.04</text>
<text transform="translate(468.30,327.70) rotate(0.03)" font-size="10.10px" text-anchor="middle">0.05</text>
<text transform="translate(524.08,327.70) rotate(0.03)" font-size="10.10px" text-anchor="middle">0.06</text>
<text transform="translate(63.10,25.54) rotate(0.03)" font-size="10.10px" text-anchor="end">0.08</text>
<text transform="translate(63.10,56.83) rotate(0.03)" font-size="10.10px" text-anchor="end">0.06</text>
<text transform="translate(63.10,88.12) rotate(0.03)" font-size="10.10px" text-anchor="end">0.04</text>
<text transform="translate(63.10,119.41) rotate(0.03)" font-size="10.10px" text-anchor="end">0.02</text>
<text transform="translate(63.10,150.70) rotate(0.03)" font-size="10.10px" text-anchor="end">0.00</text>
<text transform="translate(63.10,181.99) rotate(0.03)" font-size="10.10px" text-anchor="end">-0.02</text>
<text transform="translate(63.10,213.28) rotate(0.03)" font-size="10.10px" text-anchor="end">-0.04</text>
<text transform="translate(63.10,244.57) rotate(0.03)" font-size="10.10px" text-anchor="end">-0.06</text>
<text transform="translate(63.10,275.86) rotate(0.03)" font-size="10.10px" text-anchor="end">-0.08</text>
<text transform="translate(63.10,307.15) rotate(0.03)" font-size="10.10px" text-anchor="end">-0.10</text>
<text transform="translate(300.00,347.20) rotate(0.03)" font-size="10.80px" text-anchor="middle">PCO_1 (19.4%)</text>
<text transform="translate(25.40,164.00) rotate(-89.97)" font-size="10.80px" text-anchor="middle">PCO_2 (7.8%)</text>
<rect x="151.5" y="358.7" width="297.7" height="41" fill="#fff" stroke="#c9c9c9" stroke-width="1.5"/>
<text transform="translate(301.00,370.50) rotate(0.03)" font-size="10.80px" text-anchor="middle">Genotype</text>
<circle cx="160" cy="380" r="2.55" fill="#ffd400"/>
<polygon points="160.40,386.90 161.90,391.34 165.56,391.34 162.67,394.33 164.22,399.69 160.40,396.49 156.58,399.69 158.13,394.33 155.24,391.34 158.90,391.34" fill="#0000ff" stroke="#0000ff" stroke-width="1" stroke-linejoin="miter"/>
<polygon points="219.00,373.00 220.50,377.44 224.16,377.44 221.27,380.43 222.82,385.79 219.00,382.59 215.18,385.79 216.73,380.43 213.84,377.44 217.50,377.44" fill="#ff00ff" stroke="#ff00ff" stroke-width="1" stroke-linejoin="miter"/>
<polygon points="219.00,386.90 220.50,391.34 224.16,391.34 221.27,394.33 222.82,399.69 219.00,396.49 215.18,399.69 216.73,394.33 213.84,391.34 217.50,391.34" fill="#e31a1c" stroke="#e31a1c" stroke-width="1" stroke-linejoin="miter"/>
<polygon points="269.00,373.00 270.50,377.44 274.16,377.44 271.27,380.43 272.82,385.79 269.00,382.59 265.18,385.79 266.73,380.43 263.84,377.44 267.50,377.44" fill="#a52a2a" stroke="#a52a2a" stroke-width="1" stroke-linejoin="miter"/>
<polygon points="269.00,386.90 270.50,391.34 274.16,391.34 271.27,394.33 272.82,399.69 269.00,396.49 265.18,399.69 266.73,394.33 263.84,391.34 267.50,391.34" fill="#add8e6" stroke="#add8e6" stroke-width="1" stroke-linejoin="miter"/>
<polygon points="338.00,373.00 339.50,377.44 343.16,377.44 340.27,380.43 341.82,385.79 338.00,382.59 334.18,385.79 335.73,380.43 332.84,377.44 336.50,377.44" fill="#808080" stroke="#808080" stroke-width="1" stroke-linejoin="miter"/>
<polygon points="338.00,386.90 339.50,391.34 343.16,391.34 340.27,394.33 341.82,399.69 338.00,396.49 334.18,399.69 335.73,394.33 332.84,391.34 336.50,391.34" fill="#008000" stroke="#008000" stroke-width="1" stroke-linejoin="miter"/>
<polygon points="403.00,373.00 404.50,377.44 408.16,377.44 405.27,380.43 406.82,385.79 403.00,382.59 399.18,385.79 400.73,380.43 397.84,377.44 401.50,377.44" fill="#000000" stroke="#000000" stroke-width="1" stroke-linejoin="miter"/>
<text transform="translate(170.00,383.70) rotate(0.03)" font-size="10.10px" text-anchor="start">WM-800</text>
<text transform="translate(170.00,397.70) rotate(0.03)" font-size="10.10px" text-anchor="start">Linus</text>
<text transform="translate(229.40,383.70) rotate(0.03)" font-size="10.10px" text-anchor="start">Tobak</text>
<text transform="translate(229.40,397.70) rotate(0.03)" font-size="10.10px" text-anchor="start">Julius</text>
<text transform="translate(278.60,383.70) rotate(0.03)" font-size="10.10px" text-anchor="start">Safari</text>
<text transform="translate(278.60,397.70) rotate(0.03)" font-size="10.10px" text-anchor="start">JB_Asano</text>
<text transform="translate(346.90,383.70) rotate(0.03)" font-size="10.10px" text-anchor="start">Patras</text>
<text transform="translate(346.90,397.70) rotate(0.03)" font-size="10.10px" text-anchor="start">Bernstein</text>
<text transform="translate(413.00,383.70) rotate(0.03)" font-size="10.10px" text-anchor="start">Meister</text>
</svg></body></html>
